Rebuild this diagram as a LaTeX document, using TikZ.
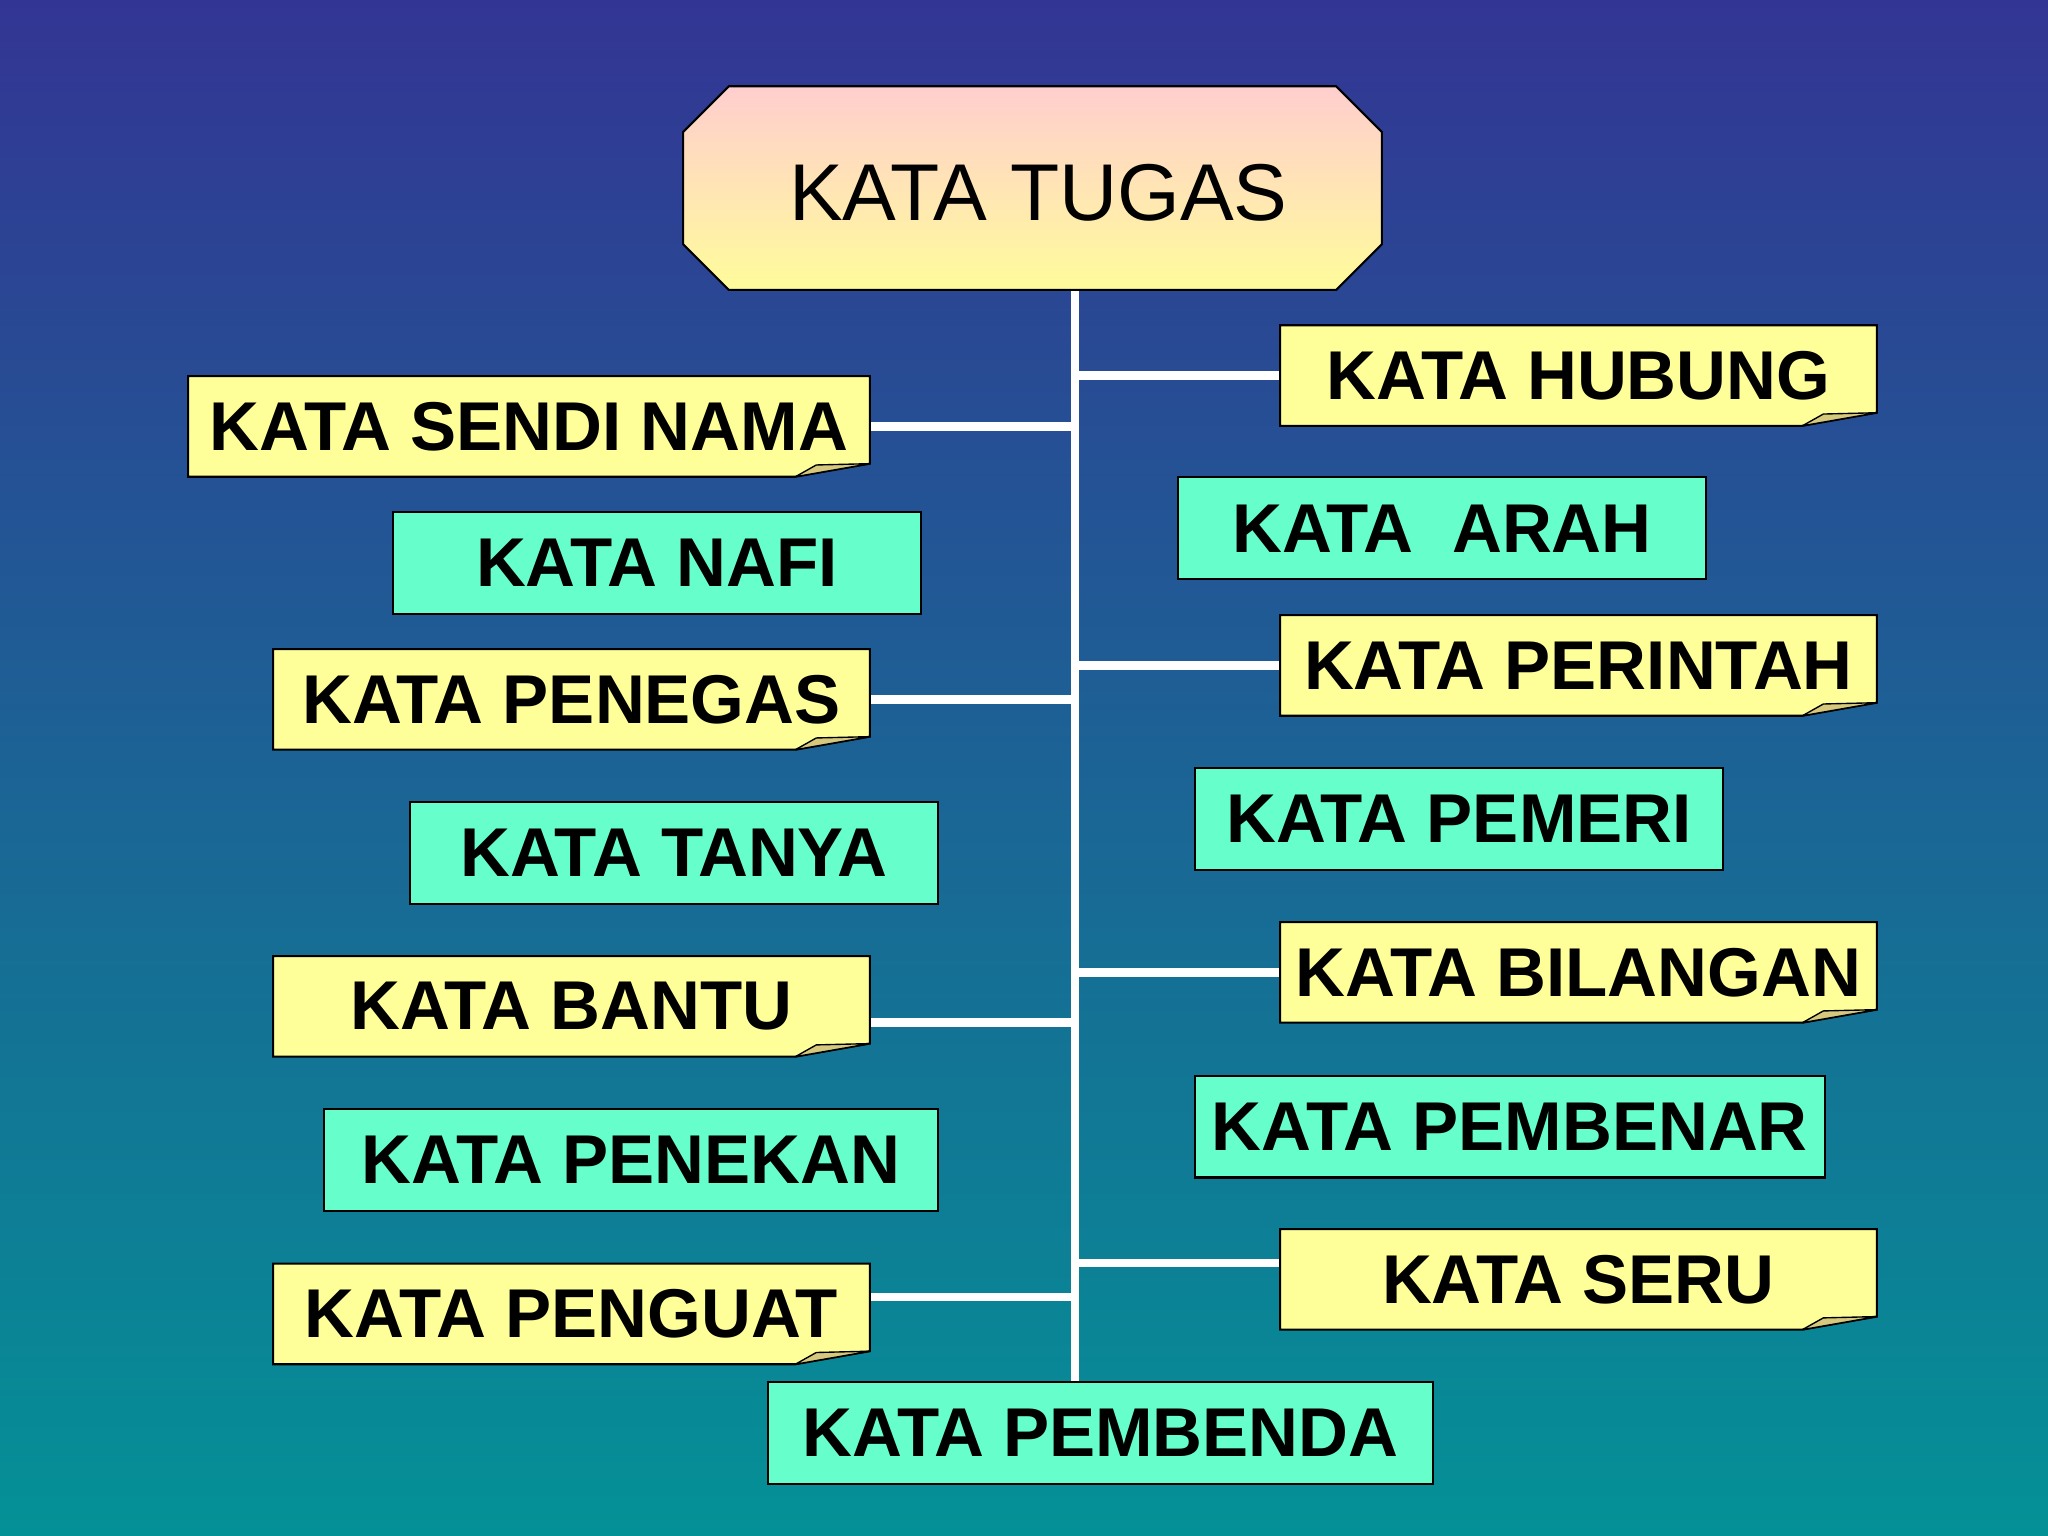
\documentclass[tikz,border=0pt]{standalone}
\usepackage{fontspec}
\setmainfont{Liberation Sans}
\usetikzlibrary{calc}
\pgfdeclarelayer{bglayer}
\pgfsetlayers{bglayer,main}
\definecolor{bgtop}{RGB}{51,53,148}
\definecolor{bgbot}{RGB}{4,145,150}
\definecolor{noteyel}{RGB}{255,255,153}
\definecolor{notecyan}{RGB}{102,255,204}
\definecolor{foldtan}{RGB}{214,200,125}
\definecolor{toppink}{RGB}{255,206,206}
\definecolor{topyel}{RGB}{255,252,155}
\newcommand\labfont{\fontsize{30.1}{32}\selectfont\bfseries}
\newcommand\notebox[1]{%
  \filldraw[fill=noteyel,draw=black,line width=0.9pt,line join=miter]
    (#1.north west) -- (#1.north east) -- ([yshift=0.2cm]#1.south east)
    -- ([xshift=-1.14cm]#1.south east) -- (#1.south west) -- cycle;
  \filldraw[fill=foldtan,draw=black,line width=0.6pt,line join=round]
    ([xshift=-1.14cm]#1.south east) -- ([xshift=-0.82cm,yshift=0.18cm]#1.south east)
    -- ([yshift=0.2cm]#1.south east) -- cycle;}
\begin{document}
\begin{tikzpicture}[x=0.02cm,y=-0.02cm,
  ynote/.style={inner sep=0pt,outer sep=0pt,minimum height=1.54cm,font=\labfont,text=black},
  cnote/.style={inner sep=0pt,outer sep=0pt,minimum height=1.56cm,font=\labfont,text=black,
     fill=notecyan,draw=black,line width=0.9pt},
  conn/.style={draw=white,line width=0.13cm}]
\useasboundingbox (0,0) rectangle (1568,1176);

% title
\node[inner sep=0pt,outer sep=0pt,minimum width=10.7cm,minimum height=3.12cm,
      label={[inner sep=0pt,xshift=0.09cm,yshift=-0.07cm,font=\fontsize{35.1}{37}\selectfont]center:KATA TUGAS}]
      (top) at (790.5,144) {};

% left column
\node[ynote,minimum width=10.44cm] (sendi)    at (405,326.5)  {KATA SENDI NAMA};
\node[cnote,minimum width=8.08cm]  (nafi)     at (503,431)    {KATA NAFI};
\node[ynote,minimum width=9.14cm]  (penegas)  at (437.5,535.5){KATA PENEGAS};
\node[cnote,minimum width=8.08cm]  (tanya)    at (516,653)    {KATA TANYA};
\node[ynote,minimum width=9.14cm]  (bantu)    at (437.5,770.5){KATA BANTU};
\node[cnote,minimum width=9.40cm]  (penekan)  at (483,888)    {KATA PENEKAN};
\node[ynote,minimum width=9.14cm]  (penguat)  at (437.5,1006) {KATA PENGUAT};
\node[cnote,minimum width=10.18cm] (pembenda) at (842.5,1097) {KATA PEMBENDA};

% right column
\node[ynote,minimum width=9.14cm]  (hubung)   at (1208.5,287.5){KATA HUBUNG};
\node[cnote,minimum width=8.08cm]  (arah)     at (1104,404.5)  {KATA\ \ ARAH};
\node[ynote,minimum width=9.14cm]  (perintah) at (1208.5,509.5){KATA PERINTAH};
\node[cnote,minimum width=8.08cm]  (pemeri)   at (1117,627)    {KATA PEMERI};
\node[ynote,minimum width=9.14cm]  (bilangan) at (1208.5,744.5){KATA BILANGAN};
\node[cnote,minimum width=9.64cm]  (pembenar) at (1156,862.5)  {KATA PEMBENAR};
\node[ynote,minimum width=9.14cm]  (seru)     at (1208.5,979.5){KATA SERU};

\coordinate (spine) at (823,600);

\begin{pgfonlayer}{bglayer}
  \shade[top color=bgtop,bottom color=bgbot] (0,0) rectangle (1568,1176);
  % connectors
  \draw[conn] (top.south -| spine) -- (pembenda.north -| spine);
  \draw[conn] (sendi.east) -- (sendi.east -| spine);
  \draw[conn] (penegas.east) -- (penegas.east -| spine);
  \draw[conn] ([yshift=-0.25cm]bantu.east) -- ([yshift=-0.25cm]bantu.east -| spine);
  \draw[conn] ([yshift=0.26cm]penguat.east) -- ([yshift=0.26cm]penguat.east -| spine);
  \draw[conn] (hubung.west) -- (hubung.west -| spine);
  \draw[conn] (perintah.west) -- (perintah.west -| spine);
  \draw[conn] (bilangan.west) -- (bilangan.west -| spine);
  \draw[conn] ([yshift=0.25cm]seru.west) -- ([yshift=0.25cm]seru.west -| spine);
  % title octagon
  \shadedraw[top color=toppink,bottom color=topyel,draw=black,line width=0.9pt]
    ([xshift=0.7cm]top.north west) -- ([xshift=-0.7cm]top.north east)
    -- ([yshift=-0.7cm]top.north east) -- ([yshift=0.7cm]top.south east)
    -- ([xshift=-0.7cm]top.south east) -- ([xshift=0.7cm]top.south west)
    -- ([yshift=0.7cm]top.south west) -- ([yshift=-0.7cm]top.north west) -- cycle;
  % yellow notes
  \notebox{sendi}
  \notebox{penegas}
  \notebox{bantu}
  \notebox{penguat}
  \notebox{hubung}
  \notebox{perintah}
  \notebox{bilangan}
  \notebox{seru}
\end{pgfonlayer}
\end{tikzpicture}
\end{document}
